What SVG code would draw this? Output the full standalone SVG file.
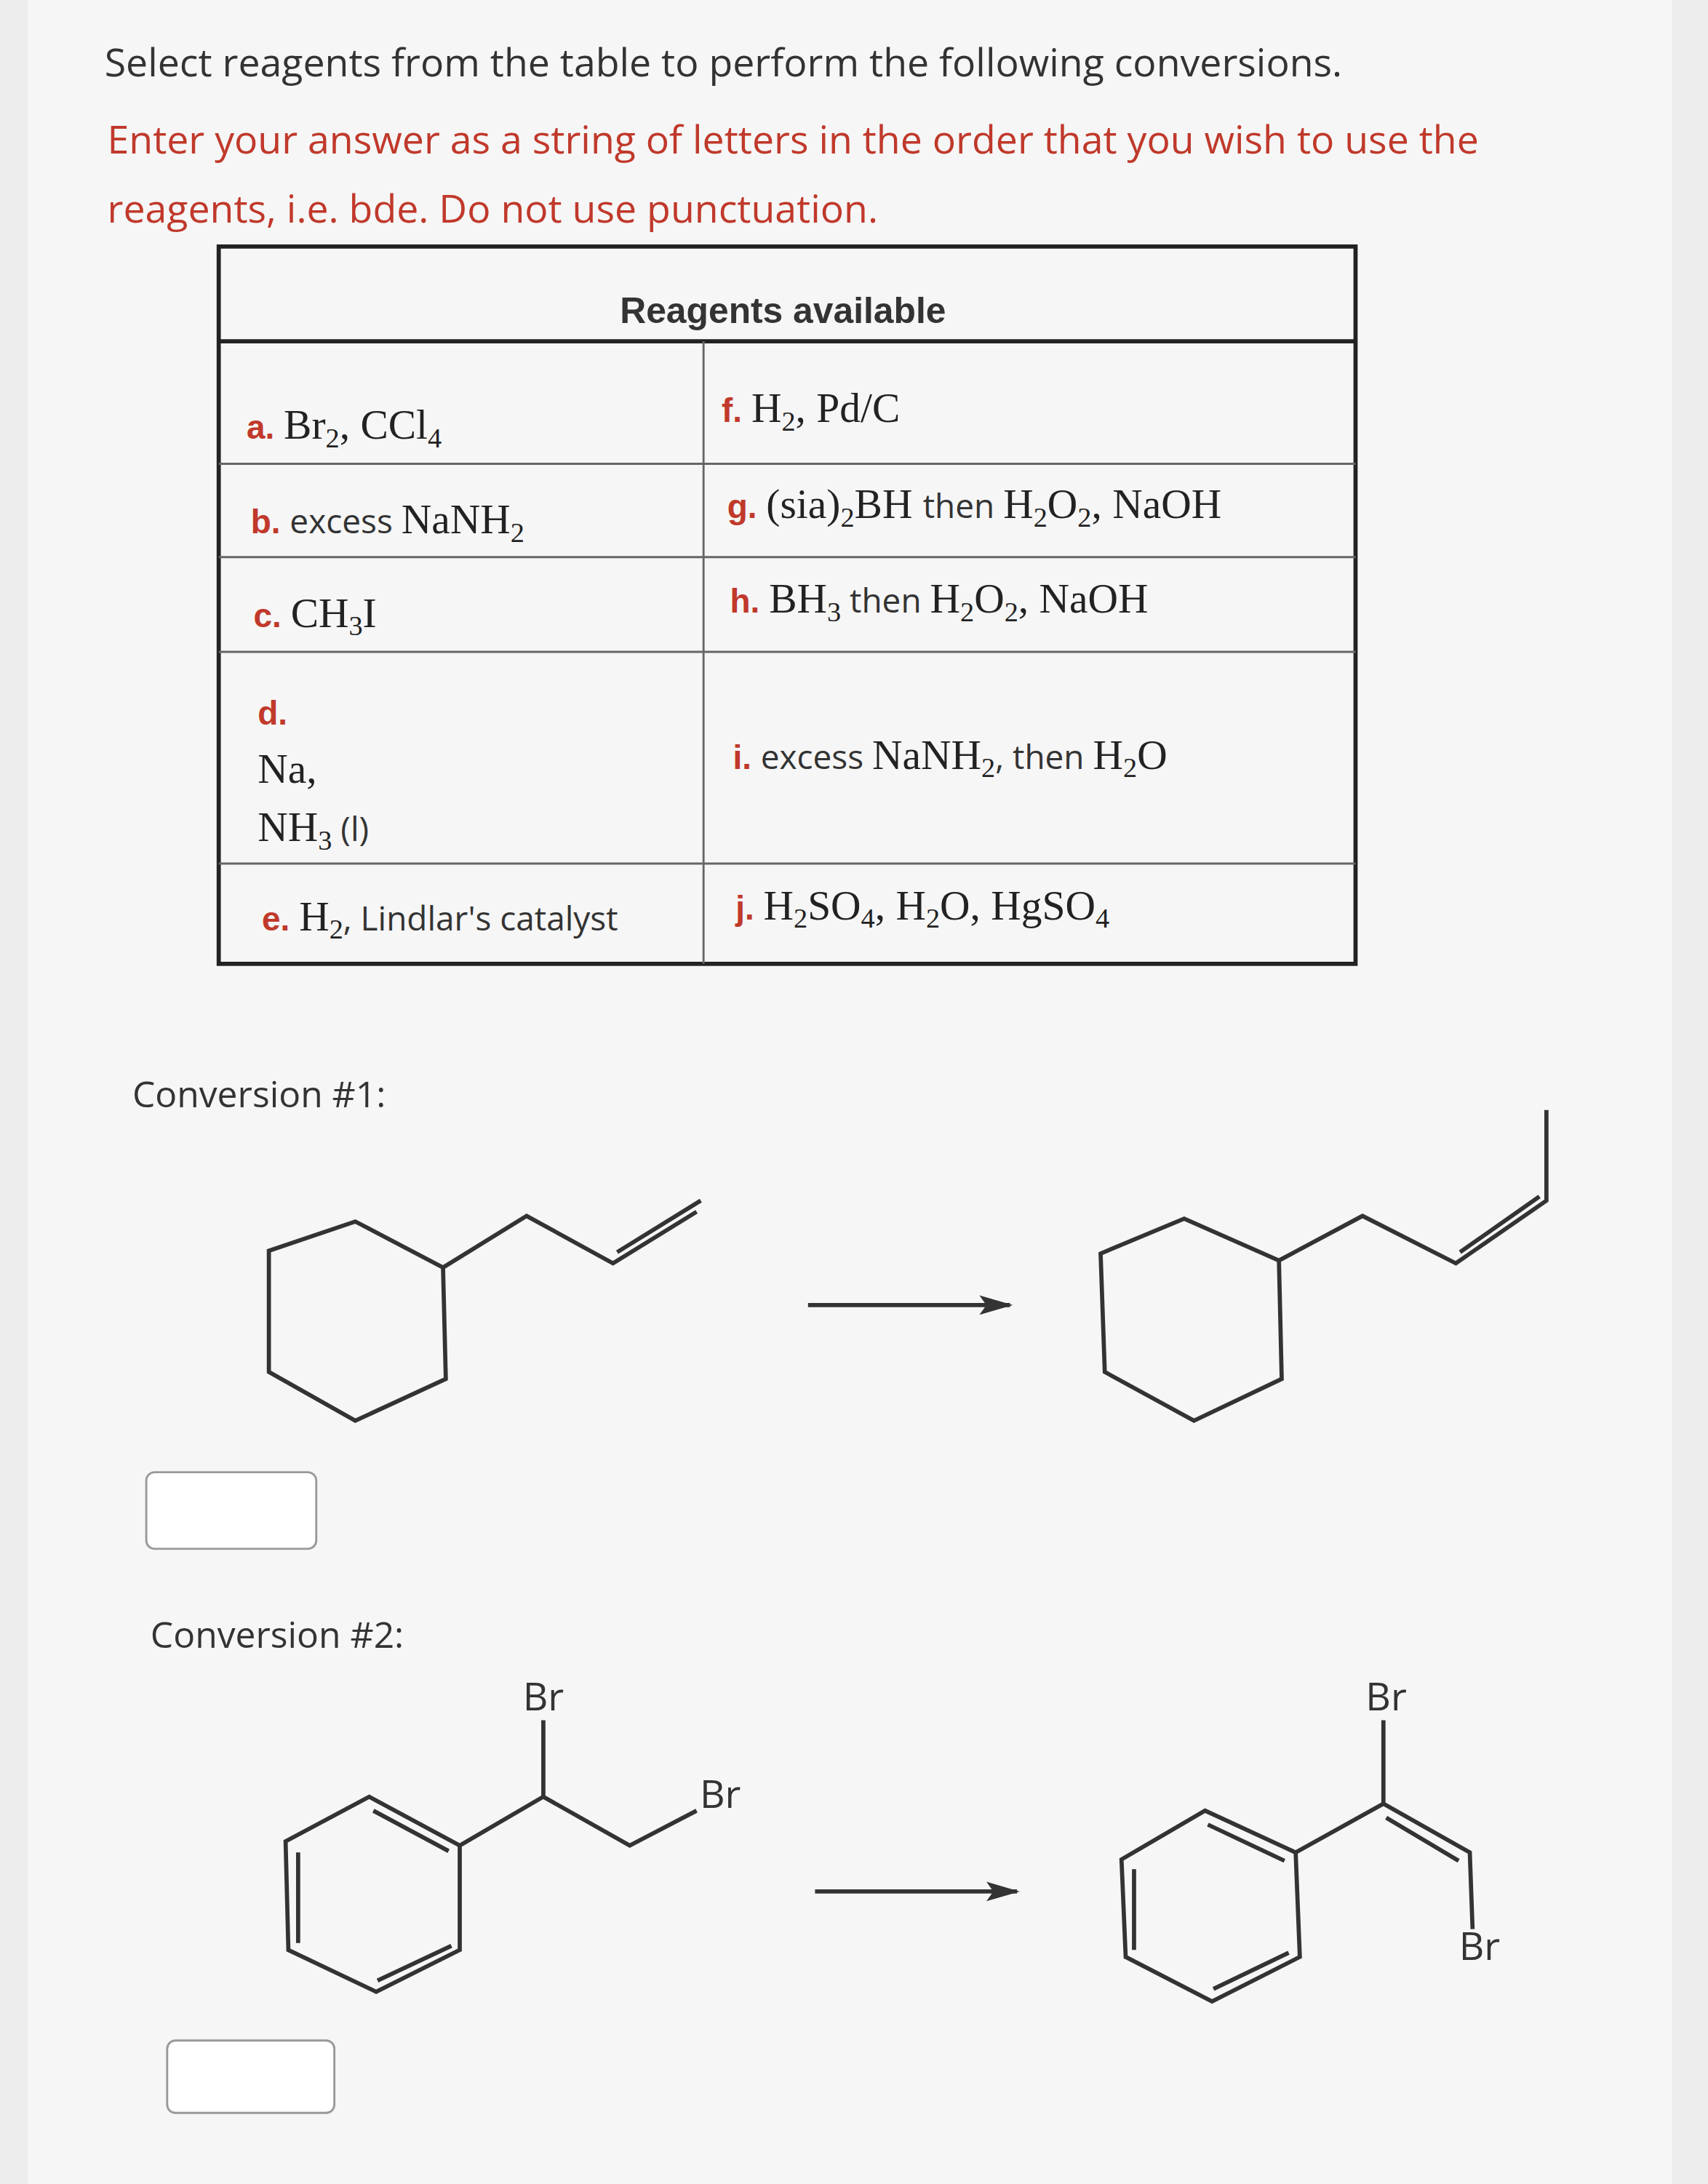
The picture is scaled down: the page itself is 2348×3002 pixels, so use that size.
<svg xmlns="http://www.w3.org/2000/svg" width="2348" height="3002" viewBox="0 0 2348 3002">
<style>
.s{font-family:"Open Sans","Liberation Sans",sans-serif;fill:#333}
.r{font-family:"Open Sans","Liberation Sans",sans-serif;fill:#c0392b}
.m{font-family:"Liberation Serif",serif;fill:#222}
.lb{font-family:"Liberation Sans",sans-serif;font-weight:bold;fill:#c0392b}
.b{stroke:#333;stroke-width:3;fill:none}
.t{stroke:#222;stroke-width:3;fill:none}
.g{stroke:#666;stroke-width:1.5;fill:none}
</style>
<defs><marker id="ah" markerWidth="24" markerHeight="14" refX="22" refY="7" orient="auto" markerUnits="userSpaceOnUse"><path d="M0,0 L24,7 L0,14 L5,7 z" fill="#333"/></marker></defs>
<rect width="2348" height="3002" fill="#ededed"/>
<g transform="scale(1.9152,1.9145)">
<rect x="20" y="0" width="1180" height="1568" fill="#f6f6f6"/>
<g id="header">
<text class="s" x="75" y="55" font-size="28">Select reagents from the table to perform the following conversions.</text>
<text class="r" x="77" y="110" font-size="28">Enter your answer as a string of letters in the order that you wish to use the</text>
<text class="r" x="77" y="160" font-size="28">reagents, i.e. bde. Do not use punctuation.</text>
</g>
<g id="table">
<rect x="157" y="177" width="816" height="515" fill="#fafafa" class="t"/>
<line class="t" x1="157" y1="245" x2="973" y2="245"/>
<line class="g" x1="505" y1="245" x2="505" y2="692"/>
<line class="g" x1="157" y1="333" x2="973" y2="333"/>
<line class="g" x1="157" y1="400" x2="973" y2="400"/>
<line class="g" x1="157" y1="468" x2="973" y2="468"/>
<line class="g" x1="157" y1="620" x2="973" y2="620"/>
<text x="562" y="232" font-size="26" text-anchor="middle" font-family="Liberation Sans,sans-serif" font-weight="bold" fill="#333">Reagents available</text>
<text x="177" y="315" font-size="24"><tspan class="lb">a. </tspan><tspan class="m" font-size="30">Br<tspan font-size="20" dy="6">2</tspan><tspan dy="-6">, CCl</tspan><tspan font-size="20" dy="6">4</tspan></tspan></text>
<text x="518" y="303" font-size="24"><tspan class="lb">f. </tspan><tspan class="m" font-size="30">H<tspan font-size="20" dy="6">2</tspan><tspan dy="-6">, Pd/C</tspan></tspan></text>
<text x="180" y="383" font-size="24"><tspan class="lb">b. </tspan><tspan class="s">excess </tspan><tspan class="m" font-size="30">NaNH<tspan font-size="20" dy="6">2</tspan></tspan></text>
<text x="522" y="372" font-size="24"><tspan class="lb">g. </tspan><tspan class="m" font-size="30">(sia)<tspan font-size="20" dy="6">2</tspan><tspan dy="-6">BH </tspan></tspan><tspan class="s">then </tspan><tspan class="m" font-size="30">H<tspan font-size="20" dy="6">2</tspan><tspan dy="-6">O</tspan><tspan font-size="20" dy="6">2</tspan><tspan dy="-6">, NaOH</tspan></tspan></text>
<text x="182" y="450" font-size="24"><tspan class="lb">c. </tspan><tspan class="m" font-size="30">CH<tspan font-size="20" dy="6">3</tspan><tspan dy="-6">I</tspan></tspan></text>
<text x="524" y="440" font-size="24"><tspan class="lb">h. </tspan><tspan class="m" font-size="30">BH<tspan font-size="20" dy="6">3</tspan></tspan><tspan class="s" dy="-6"> then </tspan><tspan class="m" font-size="30">H<tspan font-size="20" dy="6">2</tspan><tspan dy="-6">O</tspan><tspan font-size="20" dy="6">2</tspan><tspan dy="-6">, NaOH</tspan></tspan></text>
<text class="lb" x="185" y="520" font-size="24">d.</text>
<text class="m" x="185" y="562" font-size="30">Na,</text>
<text x="185" y="604"><tspan class="m" font-size="30">NH<tspan font-size="20" dy="6">3</tspan></tspan><tspan class="s" font-size="24" dy="-6"> (l)</tspan></text>
<text x="526" y="552" font-size="24"><tspan class="lb">i. </tspan><tspan class="s">excess </tspan><tspan class="m" font-size="30">NaNH<tspan font-size="20" dy="6">2</tspan></tspan><tspan class="s" dy="-6">, then </tspan><tspan class="m" font-size="30">H<tspan font-size="20" dy="6">2</tspan><tspan dy="-6">O</tspan></tspan></text>
<text x="188" y="668" font-size="24"><tspan class="lb">e. </tspan><tspan class="m" font-size="30">H<tspan font-size="20" dy="6">2</tspan></tspan><tspan class="s" dy="-6">, Lindlar's catalyst</tspan></text>
<text x="528" y="660" font-size="24"><tspan class="lb">j. </tspan><tspan class="m" font-size="30">H<tspan font-size="20" dy="6">2</tspan><tspan dy="-6">SO</tspan><tspan font-size="20" dy="6">4</tspan><tspan dy="-6">, H</tspan><tspan font-size="20" dy="6">2</tspan><tspan dy="-6">O, HgSO</tspan><tspan font-size="20" dy="6">4</tspan></tspan></text>
</g>
<g id="conv1">
<text class="s" x="95" y="795" font-size="26">Conversion #1:</text>
<path class="b" d="M193,898 L255,877 L318,910 L320,990 L255,1020 L193,985 Z M318,910 L378,873 L440,907 L500,870 M443,899 L503,862"/>
<path class="b" d="M790,900 L850,875 L918,905 L920,990 L857,1020 L793,985 Z M918,905 L978,873 L1045,907 L1110,862 L1110,797 M1048,899 L1105,859"/>
<rect x="105" y="1057" width="122" height="55" rx="6" fill="#fff" stroke="#999" stroke-width="1.5"/>
</g>
<g id="conv2">
<text class="s" x="108" y="1183" font-size="26">Conversion #2:</text>
<path class="b" d="M205,1322 L265,1290 L330,1325 L330,1400 L270,1430 L207,1400 Z M214,1330 L214,1395 M268,1300 L322,1329 M324,1397 L271,1422 M330,1325 L390,1290 L390,1235 M390,1290 L452,1325 L500,1300"/>
<text class="s" x="390" y="1228" font-size="28" text-anchor="middle">Br</text>
<text class="s" x="517" y="1298" font-size="28" text-anchor="middle">Br</text>
<path class="b" d="M805,1335 L865,1300 L930,1330 L933,1405 L870,1437 L808,1405 Z M814,1342 L814,1400 M867,1310 L922,1336 M925,1402 L871,1428 M930,1330 L993,1295 L993,1235 M993,1295 L1055,1330 L1057,1385 M995,1305 L1047,1336"/>
<text class="s" x="995" y="1228" font-size="28" text-anchor="middle">Br</text>
<text class="s" x="1062" y="1407" font-size="28" text-anchor="middle">Br</text>
<rect x="120" y="1465" width="120" height="52" rx="6" fill="#fff" stroke="#999" stroke-width="1.5"/>
</g>
<g id="connectors">
<line class="b" x1="580" y1="937" x2="725" y2="937" marker-end="url(#ah)"/>
<line class="b" x1="585" y1="1358" x2="730" y2="1358" marker-end="url(#ah)"/>
</g>
</g>
</svg>
